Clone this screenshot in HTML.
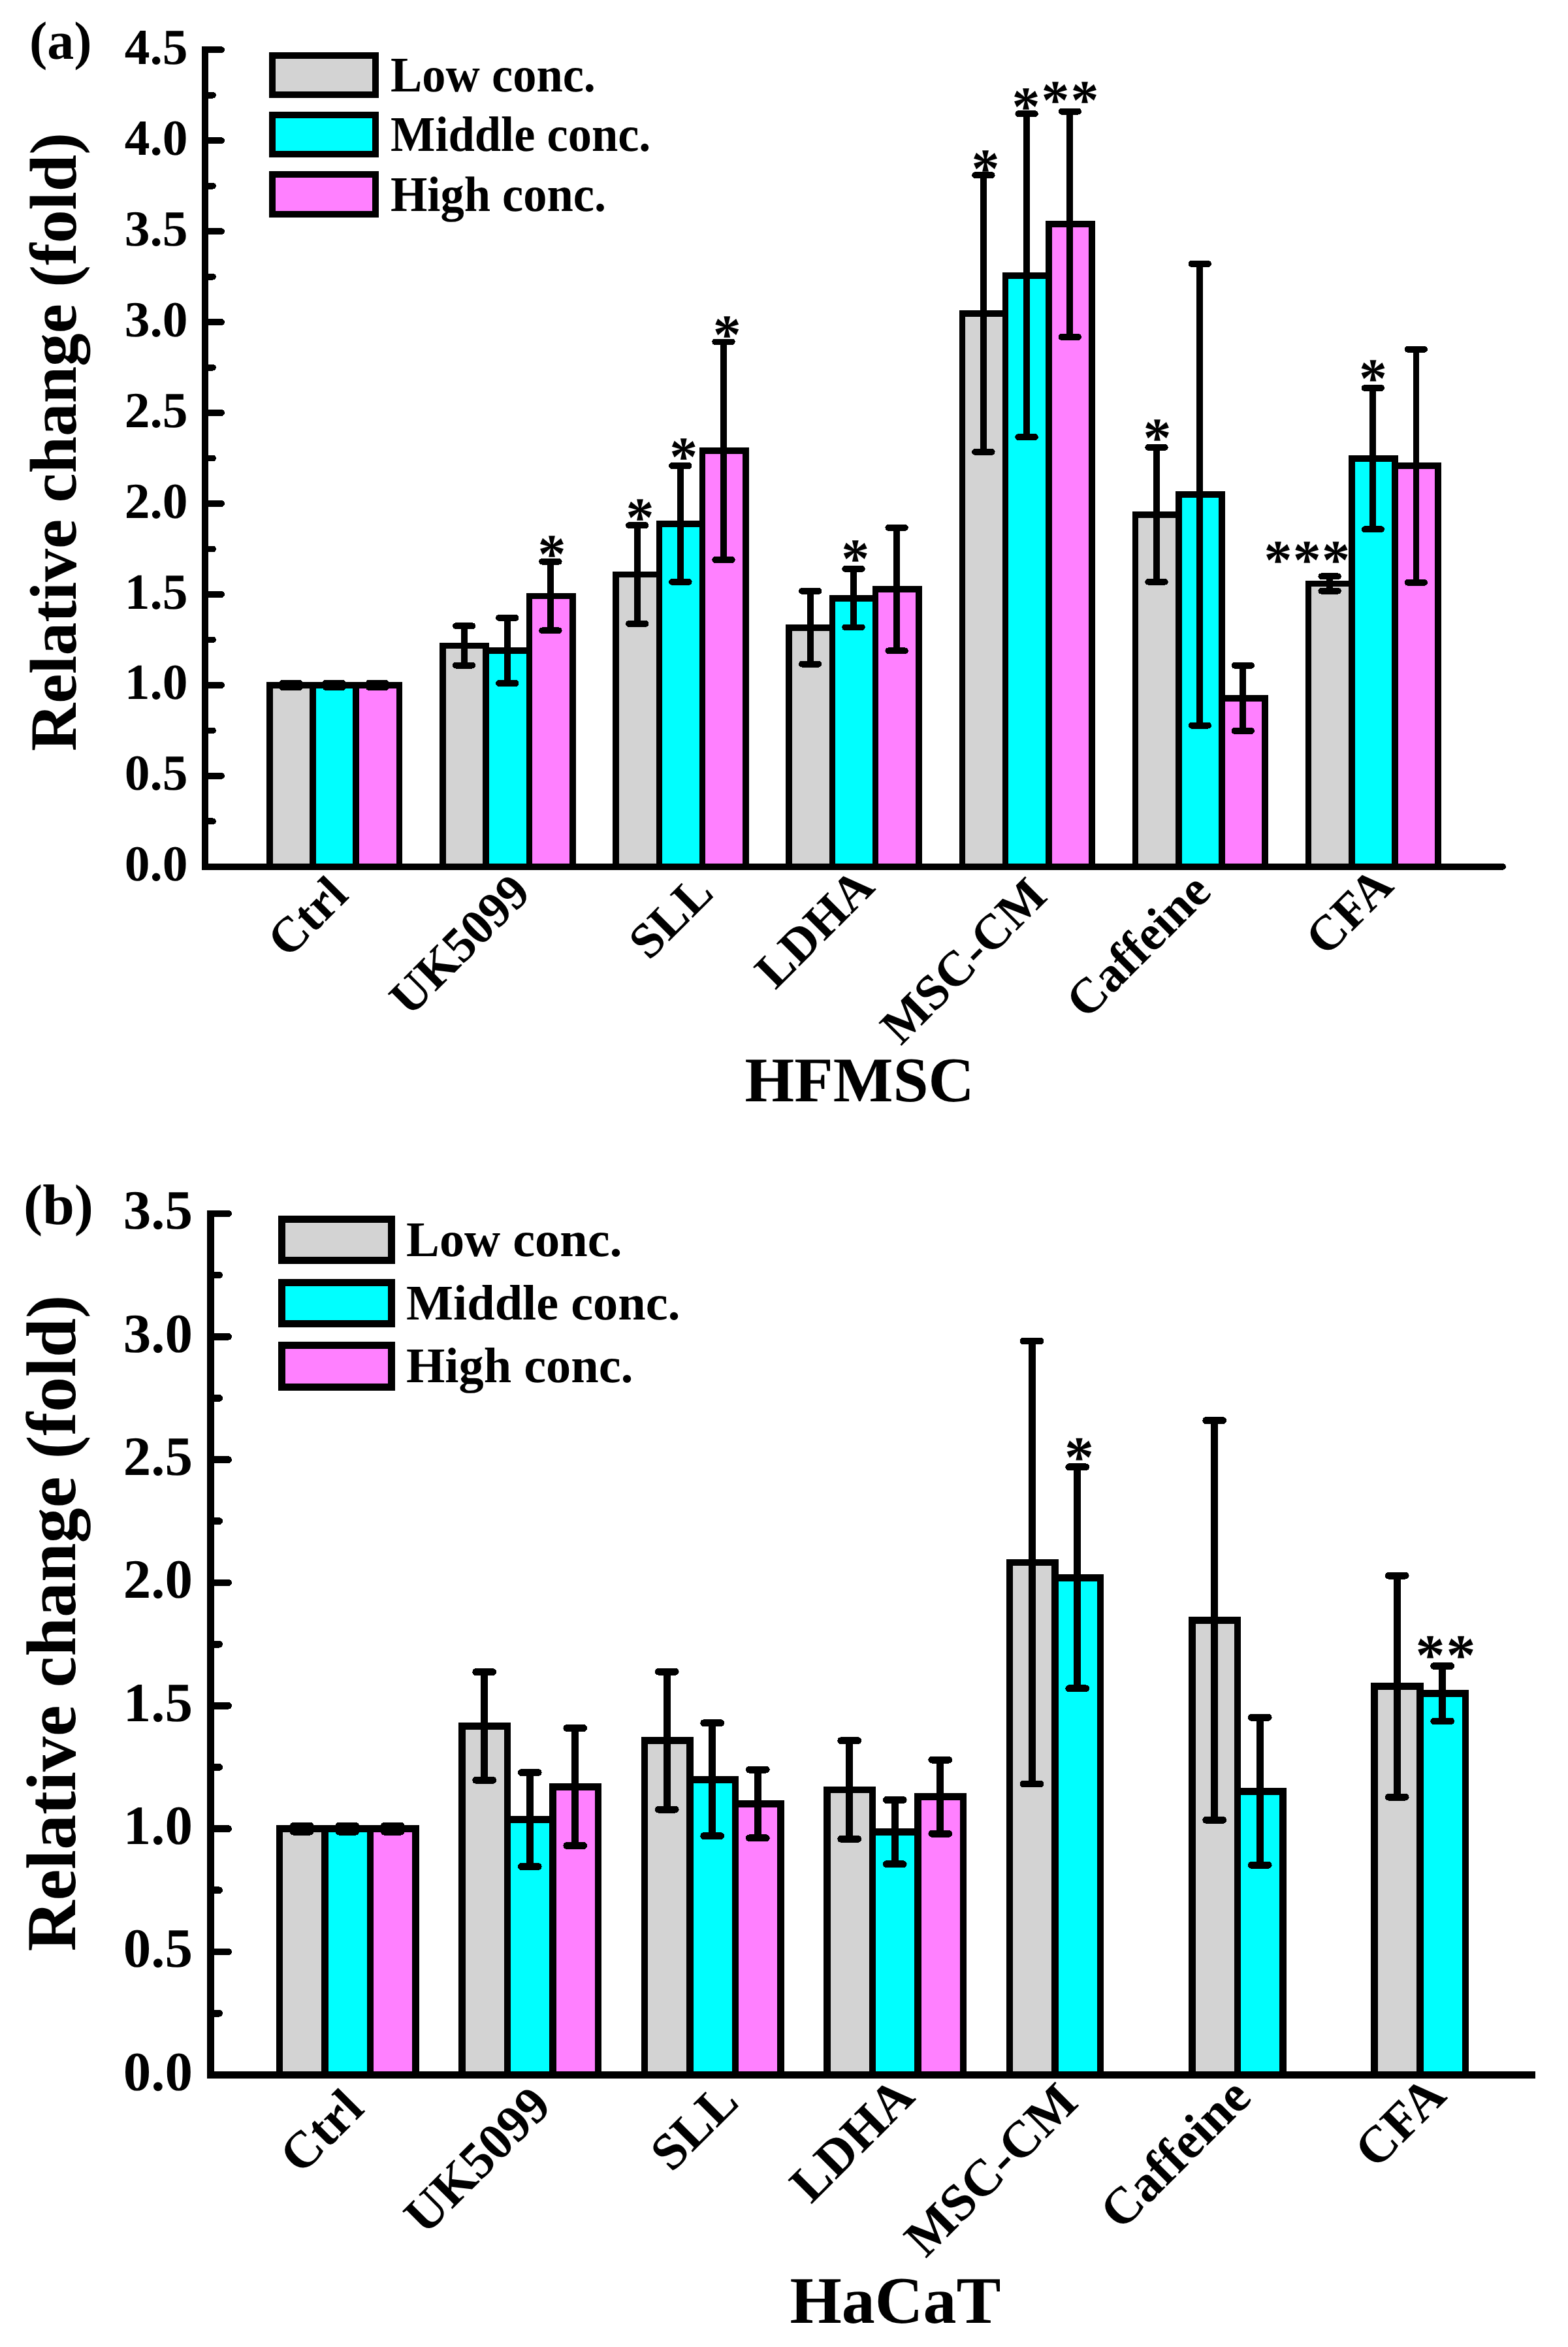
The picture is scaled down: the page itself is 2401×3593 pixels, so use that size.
<!DOCTYPE html>
<html lang="en"><head><meta charset="utf-8"><title>Relative change (fold): HFMSC and HaCaT</title>
<style>html,body{margin:0;padding:0;background:#fff}svg{display:block}text{font-family:"Liberation Serif","Times New Roman",Times,serif;font-weight:bold;fill:#000}</style>
</head><body>
<svg width="2401" height="3593" viewBox="0 0 2401 3593" shape-rendering="crispEdges" text-rendering="geometricPrecision">
<rect width="2401" height="3593" fill="#fff"/>
<g stroke="#000" stroke-width="9.8" fill="none" stroke-linecap="round">
<rect x="413" y="1048.9" width="66.2" height="277.9" fill="#d3d3d3" stroke-linecap="butt"/>
<rect x="479.2" y="1048.9" width="66.2" height="277.9" fill="#00ffff" stroke-linecap="butt"/>
<rect x="545.3" y="1048.9" width="66.2" height="277.9" fill="#ff80ff" stroke-linecap="butt"/>
<rect x="678.1" y="988.4" width="66.2" height="338.4" fill="#d3d3d3" stroke-linecap="butt"/>
<rect x="744.3" y="995.9" width="66.2" height="330.9" fill="#00ffff" stroke-linecap="butt"/>
<rect x="810.4" y="912.5" width="66.2" height="414.3" fill="#ff80ff" stroke-linecap="butt"/>
<rect x="943.2" y="879.5" width="66.2" height="447.3" fill="#d3d3d3" stroke-linecap="butt"/>
<rect x="1009.4" y="802" width="66.2" height="524.8" fill="#00ffff" stroke-linecap="butt"/>
<rect x="1075.5" y="690.2" width="66.2" height="636.6" fill="#ff80ff" stroke-linecap="butt"/>
<rect x="1208.3" y="960.7" width="66.2" height="366.1" fill="#d3d3d3" stroke-linecap="butt"/>
<rect x="1274.5" y="915.7" width="66.2" height="411.1" fill="#00ffff" stroke-linecap="butt"/>
<rect x="1340.6" y="902" width="66.2" height="424.8" fill="#ff80ff" stroke-linecap="butt"/>
<rect x="1473.4" y="480" width="66.2" height="846.8" fill="#d3d3d3" stroke-linecap="butt"/>
<rect x="1539.6" y="421.7" width="66.2" height="905.1" fill="#00ffff" stroke-linecap="butt"/>
<rect x="1605.7" y="343.3" width="66.2" height="983.5" fill="#ff80ff" stroke-linecap="butt"/>
<rect x="1738.5" y="787.8" width="66.2" height="539" fill="#d3d3d3" stroke-linecap="butt"/>
<rect x="1804.7" y="757.2" width="66.2" height="569.6" fill="#00ffff" stroke-linecap="butt"/>
<rect x="1870.8" y="1068.8" width="66.2" height="258" fill="#ff80ff" stroke-linecap="butt"/>
<rect x="2003.6" y="893.4" width="66.2" height="433.4" fill="#d3d3d3" stroke-linecap="butt"/>
<rect x="2069.8" y="702.2" width="66.2" height="624.6" fill="#00ffff" stroke-linecap="butt"/>
<rect x="2135.9" y="713.3" width="66.2" height="613.5" fill="#ff80ff" stroke-linecap="butt"/>
<path d="M445.5 1045.6V1052.2M432.7 1045.6H458.3M432.7 1052.2H458.3M511.7 1045.6V1052.2M498.9 1045.6H524.5M498.9 1052.2H524.5M577.8 1045.6V1052.2M565 1045.6H590.6M565 1052.2H590.6M710.6 958.2V1018.6M697.8 958.2H723.4M697.8 1018.6H723.4M776.8 945.8V1046M764 945.8H789.6M764 1046H789.6M842.9 859.7V965.3M830.1 859.7H855.7M830.1 965.3H855.7M975.7 804.2V954.9M962.9 804.2H988.5M962.9 954.9H988.5M1041.9 713V890.9M1029.1 713H1054.7M1029.1 890.9H1054.7M1108 523.4V857M1095.2 523.4H1120.8M1095.2 857H1120.8M1240.8 904.8V1016.6M1228 904.8H1253.6M1228 1016.6H1253.6M1307 870.9V960.4M1294.2 870.9H1319.8M1294.2 960.4H1319.8M1373.1 807.8V996.3M1360.3 807.8H1385.9M1360.3 996.3H1385.9M1505.9 268.2V691.9M1493.1 268.2H1518.7M1493.1 691.9H1518.7M1572.1 174.2V669.1M1559.3 174.2H1584.9M1559.3 669.1H1584.9M1638.2 170.6V515.9M1625.4 170.6H1651M1625.4 515.9H1651M1771 684.9V890.7M1758.2 684.9H1783.8M1758.2 890.7H1783.8M1837.2 403.9V1110.6M1824.4 403.9H1850M1824.4 1110.6H1850M1903.3 1018.8V1118.9M1890.5 1018.8H1916.1M1890.5 1118.9H1916.1M2036.1 882.3V904.6M2023.3 882.3H2048.9M2023.3 904.6H2048.9M2102.3 594V810.3M2089.5 594H2115.1M2089.5 810.3H2115.1M2168.4 534.8V891.8M2155.6 534.8H2181.2M2155.6 891.8H2181.2"/>
<path d="M313.9 1257.3H325.9M313.9 1187.8H339.1M313.9 1118.4H325.9M313.9 1048.9H339.1M313.9 979.4H325.9M313.9 910H339.1M313.9 840.5H325.9M313.9 771H339.1M313.9 701.5H325.9M313.9 632H339.1M313.9 562.6H325.9M313.9 493.1H339.1M313.9 423.6H325.9M313.9 354.2H339.1M313.9 284.7H325.9M313.9 215.2H339.1M313.9 145.7H325.9M313.9 76.2H339.1"/>
<path d="M339.1 76.2H313.9V1326.8H2301" stroke-linejoin="miter" stroke-linecap="round"/>
</g>
<g stroke="#000" stroke-width="10">
<rect x="417" y="84.6" width="157.6" height="60.2" fill="#d3d3d3"/>
<rect x="417" y="176" width="157.6" height="60.2" fill="#00ffff"/>
<rect x="417" y="267.4" width="157.6" height="60.2" fill="#ff80ff"/>
</g>
<g font-size="76.2">
<text transform="translate(598 139.7) scale(0.951 1)">Low conc.</text>
<text transform="translate(598 231.1) scale(0.951 1)">Middle conc.</text>
<text transform="translate(598 322.5) scale(0.951 1)">High conc.</text>
</g>
<g font-size="77.5" text-anchor="end">
<text x="287.5" y="1348.3">0.0</text>
<text x="287.5" y="1209.3">0.5</text>
<text x="287.5" y="1070.4">1.0</text>
<text x="287.5" y="931.5">1.5</text>
<text x="287.5" y="792.5">2.0</text>
<text x="287.5" y="653.5">2.5</text>
<text x="287.5" y="514.6">3.0</text>
<text x="287.5" y="375.7">3.5</text>
<text x="287.5" y="236.7">4.0</text>
<text x="287.5" y="97.8">4.5</text>
</g>
<g font-size="76" text-anchor="end">
<text transform="translate(536.2 1373.2) rotate(-45)">Ctrl</text>
<text transform="translate(815.5 1369.8) rotate(-45)">UK5099</text>
<text transform="translate(1095.5 1370.2) rotate(-45)">SLL</text>
<text transform="translate(1342.4 1361.2) rotate(-45)">LDHA</text>
<text transform="translate(1606.4 1375.1) rotate(-45)">MSC-CM</text>
<text transform="translate(1857.6 1368.3) rotate(-45)">Caffeine</text>
<text transform="translate(2136.8 1359.5) rotate(-45)">CFA</text>
</g>
<text font-size="97.3" text-anchor="middle" x="1316.2" y="1686">HFMSC</text>
<text font-size="101.5" text-anchor="middle" transform="translate(116 676.5) rotate(-90)">Relative change (fold)</text>
<text font-size="82" x="44.9" y="90">(a)</text>
<g font-size="86" text-anchor="middle">
<text x="845" y="877.4">*</text>
<text x="980" y="820.6">*</text>
<text x="1046.8" y="727.5">*</text>
<text x="1113.2" y="540.5">*</text>
<text x="1309.8" y="884.1">*</text>
<text x="1509.1" y="287.4">*</text>
<text x="1571.1" y="192.1">*</text>
<text x="1615.9" y="181.5">*</text>
<text x="1661.1" y="181.5">*</text>
<text x="1772" y="698.5">*</text>
<text x="1957.1" y="885.6">*</text>
<text x="2001.3" y="885.6">*</text>
<text x="2045.6" y="885.6">*</text>
<text x="2102.4" y="608.4">*</text>
</g>
<g stroke="#000" stroke-width="10.8" fill="none" stroke-linecap="round">
<rect x="427.9" y="2799.6" width="69.5" height="376.7" fill="#d3d3d3" stroke-linecap="butt"/>
<rect x="497.4" y="2799.6" width="69.5" height="376.7" fill="#00ffff" stroke-linecap="butt"/>
<rect x="567" y="2799.6" width="69.5" height="376.7" fill="#ff80ff" stroke-linecap="butt"/>
<rect x="707.4" y="2642.4" width="69.5" height="533.9" fill="#d3d3d3" stroke-linecap="butt"/>
<rect x="776.9" y="2785.6" width="69.5" height="390.7" fill="#00ffff" stroke-linecap="butt"/>
<rect x="846.5" y="2735.5" width="69.5" height="440.8" fill="#ff80ff" stroke-linecap="butt"/>
<rect x="986.9" y="2664.7" width="69.5" height="511.6" fill="#d3d3d3" stroke-linecap="butt"/>
<rect x="1056.5" y="2724.2" width="69.5" height="452.1" fill="#00ffff" stroke-linecap="butt"/>
<rect x="1126" y="2761.5" width="69.5" height="414.8" fill="#ff80ff" stroke-linecap="butt"/>
<rect x="1266.4" y="2740" width="69.5" height="436.3" fill="#d3d3d3" stroke-linecap="butt"/>
<rect x="1336" y="2804.6" width="69.5" height="371.7" fill="#00ffff" stroke-linecap="butt"/>
<rect x="1405.5" y="2750.7" width="69.5" height="425.6" fill="#ff80ff" stroke-linecap="butt"/>
<rect x="1545.9" y="2392" width="69.5" height="784.3" fill="#d3d3d3" stroke-linecap="butt"/>
<rect x="1615.5" y="2415.3" width="69.5" height="761" fill="#00ffff" stroke-linecap="butt"/>
<rect x="1825.4" y="2480.5" width="69.5" height="695.8" fill="#d3d3d3" stroke-linecap="butt"/>
<rect x="1895" y="2742.3" width="69.5" height="434" fill="#00ffff" stroke-linecap="butt"/>
<rect x="2104.9" y="2581.6" width="69.5" height="594.7" fill="#d3d3d3" stroke-linecap="butt"/>
<rect x="2174.5" y="2592.7" width="69.5" height="583.6" fill="#00ffff" stroke-linecap="butt"/>
<path d="M462.2 2795.1V2804.1M449.2 2795.1H475.2M449.2 2804.1H475.2M531.7 2795.1V2804.1M518.7 2795.1H544.7M518.7 2804.1H544.7M601.3 2795.1V2804.1M588.3 2795.1H614.3M588.3 2804.1H614.3M741.7 2559.6V2725.3M728.7 2559.6H754.7M728.7 2725.3H754.7M811.2 2713.6V2857.5M798.2 2713.6H824.2M798.2 2857.5H824.2M880.8 2645.5V2825.5M867.8 2645.5H893.8M867.8 2825.5H893.8M1021.2 2559.2V2770.1M1008.2 2559.2H1034.2M1008.2 2770.1H1034.2M1090.7 2637.7V2810.6M1077.7 2637.7H1103.7M1077.7 2810.6H1103.7M1160.3 2709.1V2813.8M1147.3 2709.1H1173.3M1147.3 2813.8H1173.3M1300.7 2664.7V2815.3M1287.7 2664.7H1313.7M1287.7 2815.3H1313.7M1370.2 2755.5V2853.7M1357.2 2755.5H1383.2M1357.2 2853.7H1383.2M1439.8 2694.1V2807.3M1426.8 2694.1H1452.8M1426.8 2807.3H1452.8M1580.2 2053V2731M1567.2 2053H1593.2M1567.2 2731H1593.2M1649.7 2245.8V2584.8M1636.7 2245.8H1662.7M1636.7 2584.8H1662.7M1859.7 2174.6V2786.3M1846.7 2174.6H1872.7M1846.7 2786.3H1872.7M1929.2 2629.3V2855.3M1916.2 2629.3H1942.2M1916.2 2855.3H1942.2M2139.2 2412.1V2751.1M2126.2 2412.1H2152.2M2126.2 2751.1H2152.2M2208.7 2550.5V2634.9M2195.7 2550.5H2221.7M2195.7 2634.9H2221.7"/>
<path d="M322.4 3082.1H335.6M322.4 2988H349.5M322.4 2893.8H335.6M322.4 2799.6H349.5M322.4 2705.4H335.6M322.4 2611.2H349.5M322.4 2517.1H335.6M322.4 2422.9H349.5M322.4 2328.7H335.6M322.4 2234.6H349.5M322.4 2140.4H335.6M322.4 2046.2H349.5M322.4 1952H335.6M322.4 1857.9H349.5"/>
<path d="M349.5 1857.9H322.4V3176.3H2351" stroke-linejoin="miter" stroke-linecap="butt"/>
</g>
<g stroke="#000" stroke-width="11">
<rect x="431.4" y="1866.5" width="167.8" height="63.3" fill="#d3d3d3"/>
<rect x="431.4" y="1963.1" width="167.8" height="63.3" fill="#00ffff"/>
<rect x="431.4" y="2059.7" width="167.8" height="63.3" fill="#ff80ff"/>
</g>
<g font-size="76.3">
<text x="622" y="1923">Low conc.</text>
<text x="622" y="2019.6">Middle conc.</text>
<text x="622" y="2116.2">High conc.</text>
</g>
<g font-size="85" text-anchor="end">
<text x="295" y="3199.6">0.0</text>
<text x="295" y="3011.3">0.5</text>
<text x="295" y="2822.9">1.0</text>
<text x="295" y="2634.6">1.5</text>
<text x="295" y="2446.2">2.0</text>
<text x="295" y="2257.9">2.5</text>
<text x="295" y="2069.5">3.0</text>
<text x="295" y="1881.2">3.5</text>
</g>
<g font-size="79.2" text-anchor="end">
<text transform="translate(560.3 3231.3) rotate(-45)">Ctrl</text>
<text transform="translate(847.2 3227.2) rotate(-45)">UK5099</text>
<text transform="translate(1134.3 3221.1) rotate(-45)">SLL</text>
<text transform="translate(1403.7 3213.4) rotate(-45)">LDHA</text>
<text transform="translate(1653.8 3221.8) rotate(-45)">MSC-CM</text>
<text transform="translate(1919 3214.2) rotate(-45)">Caffeine</text>
<text transform="translate(2217.6 3211.6) rotate(-45)">CFA</text>
</g>
<text font-size="102" text-anchor="middle" x="1371" y="3556">HaCaT</text>
<text font-size="107.7" text-anchor="middle" transform="translate(115 2484.8) rotate(-90)">Relative change (fold)</text>
<text font-size="87.5" x="36" y="1873.8">(b)</text>
<g font-size="90" text-anchor="middle">
<text x="1652.6" y="2261.3">*</text>
<text x="2190" y="2564.3">*</text>
<text x="2237" y="2564.3">*</text>
</g>
</svg></body></html>
